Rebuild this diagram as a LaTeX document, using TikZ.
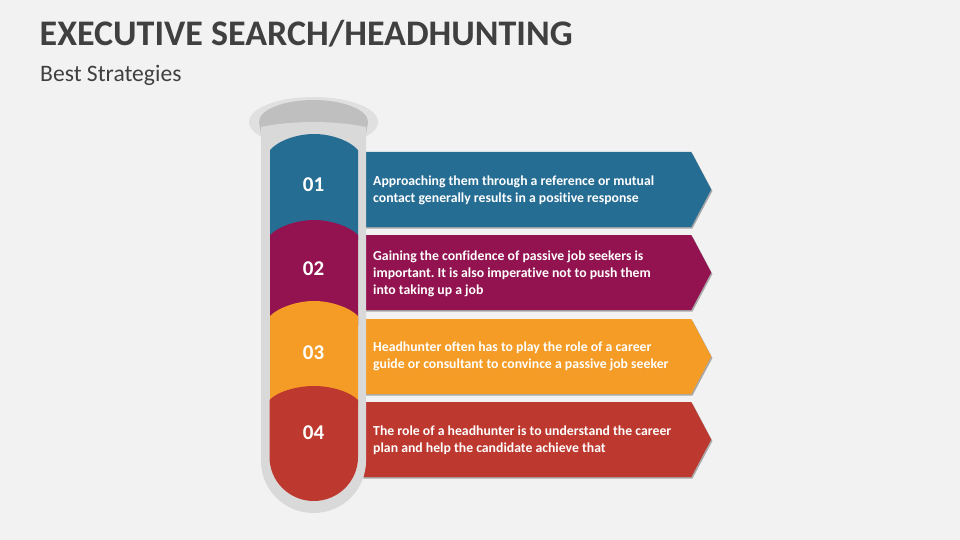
\documentclass[tikz,border=0pt]{standalone}
\usepackage{fontspec}
\setmainfont{Carlito}[Ligatures=NoCommon]
\usetikzlibrary{shapes.symbols,shadows}

\definecolor{slidebg}{HTML}{F2F2F2}
\definecolor{titlegray}{HTML}{404040}
\definecolor{glassgray}{HTML}{D9D9D9}
\definecolor{rimgray}{HTML}{E0E0E0}
\definecolor{mouthgray}{HTML}{BFBFBF}
\definecolor{blueband}{HTML}{266D94}
\definecolor{plumband}{HTML}{921350}
\definecolor{orangeband}{HTML}{F49C26}
\definecolor{redband}{HTML}{BD382E}

\tikzset{
  banner/.style={signal, signal to=east, signal pointer angle=124, minimum width=349pt, minimum height=75pt, inner sep=0pt, anchor=west, fill=#1, drop shadow={shadow xshift=1.2pt, shadow yshift=-1.5pt, fill=black, opacity=.3}},
  desc/.style={anchor=west, align=left, inner sep=0pt, text=white, font=\fontsize{13.75}{17}\selectfont\bfseries},
  num/.style={inner sep=0pt, text=white, font=\fontsize{21}{24}\selectfont\bfseries}
}

\begin{document}
\frenchspacing
\begin{tikzpicture}[x=1pt,y=-1pt]
\useasboundingbox (0,0) rectangle (960,540);
\fill[slidebg] (0,0) rectangle (960,540);

\node[anchor=west,inner sep=0pt,text=titlegray,font=\fontsize{36}{40}\selectfont\bfseries] (title) at (39.5,34) {EXECUTIVE SEARCH/HEADHUNTING};
\node[anchor=west,inner sep=0pt,text=titlegray,font=\fontsize{23.6}{26}\selectfont] (subtitle) at (40,75) {Best Strategies};

% mouth of the tube
\fill[rimgray] (313.5,122) ellipse [x radius=64.5, y radius=25];
\fill[mouthgray] (313.5,122) ellipse [x radius=54.5, y radius=22];
\fill[mouthgray] (259,122) -- (368,122) -- (366,134) -- (261,134) -- cycle;

\node[banner=blueband] (bannerA) at (362,189.5) {};
\node[banner=plumband] (bannerB) at (362,272.5) {};
\node[banner=orangeband] (bannerC) at (362,356.5) {};
\node[banner=redband] (bannerD) at (362,439.5) {};

% glass
\fill[glassgray] (261,127) .. controls (275,124) and (295,122) .. (313.5,122) .. controls (332,122) and (352,124) .. (366,127) -- (366,461) arc [start angle=0, end angle=180, x radius=52.5, y radius=52] -- cycle;

% liquid
\fill[blueband] (270,150) .. controls (278,141) and (296,134) .. (314,134) .. controls (332,134) and (350,141) .. (358,150) -- (358,240) -- (270,240) -- cycle;
\fill[plumband] (270,235) .. controls (278,227) and (296,220) .. (314,220) .. controls (332,220) and (350,227) .. (358,235) -- (358,325) -- (270,325) -- cycle;
\fill[orangeband] (270,316) .. controls (278,308) and (296,301) .. (314,301) .. controls (332,301) and (350,308) .. (358,316) -- (358,405) -- (270,405) -- cycle;
\fill[redband] (269.5,400) .. controls (277,392) and (296,386) .. (314,386) .. controls (332,386) and (350,392) .. (358,400) -- (358,457) arc [start angle=0, end angle=180, x radius=44.25, y radius=44] -- cycle;

\node[num] (numA) at (313.5,185) {01};
\node[num] (numB) at (313.5,269) {02};
\node[num] (numC) at (313.5,353) {03};
\node[num] (numD) at (313.5,433) {04};

\node[desc] (descA) at (373,190.5) {Approaching them through a reference or mutual\\contact generally results in a positive response};
\node[desc] (descB) at (373,273.5) {Gaining the confidence of passive job seekers is\\important. It is also imperative not to push them\\into taking up a job};
\node[desc] (descC) at (373,356.5) {Headhunter often has to play the role of a career\\guide or consultant to convince a passive job seeker};
\node[desc] (descD) at (373,440) {The role of a headhunter is to understand the career\\plan and help the candidate achieve that};
\end{tikzpicture}
\end{document}
